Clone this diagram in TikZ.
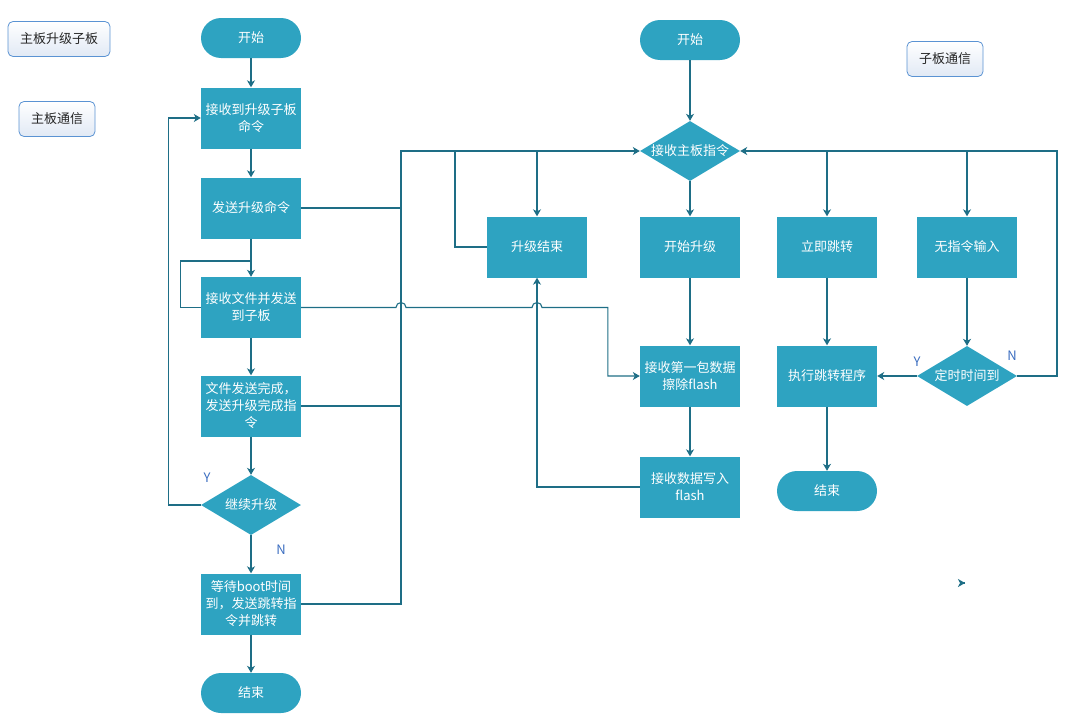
\documentclass[tikz,border=0pt]{standalone}
\usepackage{fontspec}
\setmainfont{Noto Sans CJK SC}
\usepackage{xcolor}
\usetikzlibrary{shapes.geometric, arrows.meta}

\definecolor{boxblue}{HTML}{2EA3C1}
\definecolor{linkblue}{HTML}{1E6E86}
\definecolor{labblue}{HTML}{3C6EC0}
\definecolor{noteedge}{HTML}{5B93D3}
\definecolor{notefill}{HTML}{E1E9F5}

\begin{document}
\begin{tikzpicture}[x=1pt, y=-1pt,
      font=\fontsize{13}{17}\selectfont,
      box/.style={rectangle, fill=boxblue, text=white, align=center,
        minimum width=100pt, minimum height=61pt, inner sep=0pt},
      term/.style={rectangle, rounded corners=20pt, fill=boxblue, text=white,
        minimum width=100pt, minimum height=40pt, inner sep=0pt},
      decision/.style={diamond, fill=boxblue, text=white, aspect=1.667,
        minimum width=100pt, minimum height=60pt, inner sep=0pt},
      note/.style={rectangle, rounded corners=5pt, draw=noteedge, line width=0.8pt,
        top color=white, bottom color=notefill, text=black!85,
        minimum height=35pt, inner xsep=12pt},
      yn/.style={text=labblue, inner sep=0pt},
      line/.style={draw=linkblue, line width=1.1pt},
      arr/.style={line, -{Stealth[length=7pt, width=8pt, inset=2pt]}}]
      \useasboundingbox (0,0) rectangle (1084,728);
      % legends
      \node[note] (mainup) at (59,39) {主板升级子板};
      \node[note] (maincom) at (57,119) {主板通信};
      \node[note] (subcom) at (945,59) {子板通信};
      % main board
      \node[term] (start1) at (251,38) {开始};
      \node[box] (recvcmd) at (251,118) {接收到升级子板\\命令};
      \node[box] (sendcmd) at (251,208) {发送升级命令};
      \node[box] (sendfile) at (251,307.5) {接收文件并发送\\到子板};
      \node[box] (senddone) at (251,406) {文件发送完成，\\发送升级完成指\\令};
      \node[decision] (goon) at (251,505) {\makebox[0pt]{继续升级}};
      \node[box] (waitboot) at (251,604) {等待boot时间\\到，发送跳转指\\令并跳转};
      \node[term] (end1) at (251,693) {结束};
      \node[yn] (ylabel1) at (207,478) {Y};
      \node[yn] (nlabel1) at (281,550) {N};
      % sub board
      \node[term] (start2) at (690,40) {开始};
      \node[decision] (getcmd) at (690,151) {\makebox[0pt]{接收主板指令}};
      \node[box] (updone) at (537,247) {升级结束};
      \node[box] (upstart) at (690,247) {开始升级};
      \node[box] (jumpnow) at (827,247) {立即跳转};
      \node[box] (nocmd) at (967,247) {无指令输入};
      \node[box] (firstpkg) at (690,376) {接收第一包数据\\擦除flash};
      \node[box] (writepkg) at (690,487) {接收数据写入\\flash};
      \node[box] (runjump) at (827,376) {执行跳转程序};
      \node[decision] (timeout) at (967,376) {\makebox[0pt]{定时时间到}};
      \node[term] (end2) at (827,491) {结束};
      \node[yn] (ylabel2) at (917,362) {Y};
      \node[yn] (nlabel2) at (1012,356) {N};
      \coordinate (bustop) at (401,151);
      \coordinate (retjoin) at (455,151);
      \coordinate (busright) at (1057,151);
      \coordinate (selfjoin) at (251,261);
      \coordinate (stray) at (965,583);

      \draw[arr] (start1) -- (recvcmd);
      \draw[arr] (recvcmd) -- (sendcmd);
      \draw[arr] (sendcmd) -- (sendfile);
      \draw[arr] (sendfile) -- (senddone);
      \draw[arr] (senddone) -- (goon);
      \draw[arr] (goon) -- (waitboot);
      \draw[arr] (waitboot) -- (end1);
      \draw[arr] (goon.west) -- ++(-32,0) |- (recvcmd.west);
      \draw[line] (sendfile.west) -- ++(-20,0) |- (selfjoin);
      \draw[line] (sendcmd.east) -- (sendcmd.east -| bustop);
      \draw[line] (senddone.east) -- (senddone.east -| bustop);
      \draw[arr] (waitboot.east) -| (bustop) -- (getcmd.west);
      \draw[arr] (sendfile.east) -- ([xshift=-5pt]sendfile.east -| bustop)
        arc[start angle=180, end angle=0, radius=5pt]
        -- ([xshift=-5pt]sendfile.east -| updone)
        arc[start angle=180, end angle=0, radius=5pt]
        -- ([xshift=-32pt]sendfile.east -| firstpkg.west) |- (firstpkg.west);

      \draw[arr] (start2) -- (getcmd);
      \draw[arr] (getcmd) -- (upstart);
      \draw[arr] (upstart) -- (firstpkg);
      \draw[arr] (firstpkg) -- (writepkg);
      \draw[arr] (writepkg.west) -| (updone.south);
      \draw[arr] (bustop -| updone) -- (updone);
      \draw[line] (updone.west) -| (retjoin);
      \draw[arr] (timeout.east) -| (busright) -- (getcmd.east);
      \draw[arr] (busright -| jumpnow) -- (jumpnow);
      \draw[arr] (busright -| nocmd) -- (nocmd);
      \draw[arr] (jumpnow) -- (runjump);
      \draw[arr] (nocmd) -- (timeout);
      \draw[arr] (timeout) -- (runjump);
      \draw[arr] (runjump) -- (end2);
      \draw[arr] ([xshift=-0.5pt]stray) -- (stray);
    \end{tikzpicture}
\end{document}
